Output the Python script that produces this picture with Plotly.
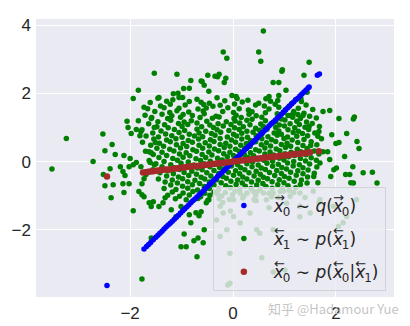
import plotly.graph_objects as go

# ---------------- data ----------------
# blue: x0 ~ q(x0)
blue_x = [-2.45, -1.73, -1.68, -1.64, -1.60, -1.55, -1.50, -1.46, -1.42, -1.38, -1.34, -1.30, -1.26,
          -1.22, -1.18, -1.14, -1.10, -1.06, -1.02, -0.98, -0.94, -0.90, -0.86, -0.82, -0.78, -0.74,
          -0.70, -0.66, -0.62, -0.58, -0.54, -0.50, -0.46, -0.42, -0.38, -0.34, -0.30, -0.26, -0.22,
          -0.18, -0.14, -0.10, -0.06, -0.02, 0.02, 0.06, 0.10, 0.14, 0.18, 0.22, 0.26, 0.30, 0.34,
          0.38, 0.42, 0.46, 0.50, 0.54, 0.58, 0.62, 0.66, 0.70, 0.74, 0.78, 0.82, 0.86, 0.90, 0.94,
          0.98, 1.02, 1.06, 1.10, 1.14, 1.18, 1.22, 1.26, 1.30, 1.34, 1.38, 1.42, 1.46, 1.48, 1.64, 1.68]
blue_y = [-3.63, -2.56, -2.49, -2.43, -2.37, -2.29, -2.22, -2.16, -2.10, -2.04, -1.98, -1.92, -1.86,
          -1.81, -1.75, -1.69, -1.63, -1.57, -1.51, -1.45, -1.39, -1.33, -1.27, -1.21, -1.15, -1.10,
          -1.04, -0.98, -0.92, -0.86, -0.80, -0.74, -0.68, -0.62, -0.56, -0.50, -0.44, -0.38, -0.33,
          -0.27, -0.21, -0.15, -0.09, -0.03, 0.03, 0.09, 0.15, 0.21, 0.27, 0.33, 0.38, 0.44, 0.50,
          0.56, 0.62, 0.68, 0.74, 0.80, 0.86, 0.92, 0.98, 1.04, 1.10, 1.15, 1.21, 1.27, 1.33, 1.39,
          1.45, 1.51, 1.57, 1.63, 1.69, 1.75, 1.81, 1.86, 1.92, 1.98, 2.04, 2.10, 2.16, 2.19, 2.53, 2.57]

# red: x0 ~ p(x0 | x1)
red_x = [-2.45, -1.75, -1.70, -1.65, -1.60, -1.55, -1.50, -1.45, -1.40, -1.35, -1.30, -1.25, -1.20,
         -1.15, -1.10, -1.05, -1.00, -0.95, -0.90, -0.85, -0.80, -0.75, -0.70, -0.65, -0.60, -0.55,
         -0.50, -0.45, -0.40, -0.35, -0.30, -0.25, -0.20, -0.15, -0.10, -0.05, 0.00, 0.05, 0.10,
         0.15, 0.20, 0.25, 0.30, 0.35, 0.40, 0.45, 0.50, 0.55, 0.60, 0.65, 0.70, 0.75, 0.80, 0.85,
         0.90, 0.95, 1.00, 1.05, 1.10, 1.15, 1.20, 1.25, 1.30, 1.35, 1.40, 1.45, 1.50, 1.67]
red_y = [-0.44, -0.32, -0.31, -0.30, -0.29, -0.28, -0.27, -0.26, -0.25, -0.24, -0.23, -0.23, -0.22,
         -0.21, -0.20, -0.19, -0.18, -0.17, -0.16, -0.15, -0.14, -0.14, -0.13, -0.12, -0.11, -0.10,
         -0.09, -0.08, -0.07, -0.06, -0.05, -0.05, -0.04, -0.03, -0.02, -0.01, 0.00, 0.01, 0.02,
         0.03, 0.04, 0.05, 0.05, 0.06, 0.07, 0.08, 0.09, 0.10, 0.11, 0.12, 0.13, 0.14, 0.14, 0.15,
         0.16, 0.17, 0.18, 0.19, 0.20, 0.21, 0.22, 0.23, 0.23, 0.24, 0.25, 0.26, 0.27, 0.30]

# green: x1 ~ p(x1) -- scattered points read individually
green_outer_x = [-3.52, -3.24, -2.72, -2.53, -2.49, -2.35, -2.29, -2.12, -2.00, -2.06, -2.04, -1.88, -1.79,
                 -1.98, -1.81, -1.94, -1.84, -1.73, -1.59, -1.53, -1.53, -1.63, -1.59, -1.51,
                 -2.39, -2.52, -2.19, -2.14, -2.10, -2.02, -1.94, -1.88, -1.79, -2.49, -2.33, -2.14, -2.02,
                 -2.37, -2.12, -1.77, -1.73, -1.69, -1.83, -1.77, -1.73, -1.63, -1.59, -1.55, -1.94, -1.59,
                 -1.77, -1.61, -1.53,
                 -0.95, -1.01, -0.91, -0.70, -0.76, -0.68, -0.58, -0.56, -0.82, -0.72, -0.62, -0.66, -0.85,
                 -0.52, -0.47, -1.11, -1.36, -1.44, -1.32, -1.20, -1.01,
                 0.59, -0.19, -0.12, 0.50, 0.54, -1.09, -0.82, -0.85, -0.60, -0.56, -0.49, -0.35, -0.27,
                 -0.14, -0.17, -0.47, -1.07, -1.05, -1.44, -0.02, 0.06, 0.78, 0.70, 0.96, 1.48, 0.95, 1.38,
                 0.89, 1.03, 0.89, 1.44, 1.32, -0.96, -1.16, -0.30, -0.62,
                 1.36, 1.17, 1.07, 1.75, 1.88, 2.06, 2.34, 2.36, 1.48, 1.67, 1.65, 1.92, 2.21, 2.00, 2.06,
                 2.41, 2.45, 2.17, 1.75, 1.84, 1.51, 1.88, 2.01, 1.69, 2.71, 2.80, 2.27, 2.34, 2.53, 2.33,
                 2.19, 2.29, 1.90, 1.96, 1.57, 1.65]
green_outer_y = [-0.22, 0.68, 0.00, 0.81, 0.32, 0.50, 0.21, 0.18, 0.09, 1.18, 1.00, 0.94, 0.88,
                 0.82, 0.76, 1.85, 2.09, 1.59, 1.26, 1.00, 2.59, 0.29, 0.26, 0.56,
                 -0.21, -0.38, -0.15, -0.29, -0.41, -0.15, -0.09, -0.03, -0.15, -0.71, -0.68, -0.65, -0.65,
                 -1.06, -0.91, -0.65, -0.50, -0.38, -0.88, -0.97, -1.03, -1.21, -1.32, -1.18, -1.44, -2.24,
                 -3.44, -0.03, -0.09,
                 -2.12, -2.50, -2.50, -2.79, -2.32, -2.24, -2.38, -2.00, -1.79, -1.50, -1.47, -1.59, -1.56,
                 -1.21, -1.12, -1.62, -1.21, -1.32, -1.06, -1.41, -1.32,
                 3.83, 3.21, 3.03, 3.21, 2.94, 2.56, 2.38, 2.15, 2.35, 2.24, 2.53, 2.50, 2.56,
                 2.44, 2.32, 2.06, 2.00, 1.88, 1.88, 1.94, 1.91, 2.32, 1.91, 2.69, 2.91, 2.65, 2.53,
                 2.32, 2.09, 1.94, 2.03, 1.85, 2.14, 1.99, 2.49, 2.36,
                 1.35, 1.41, 1.35, 1.47, 1.50, 1.26, 1.25, 1.31, 1.03, 0.88, 0.74, 0.79, 0.82, 0.53, 0.56,
                 0.59, 0.38, 0.15, 0.29, 0.29, 0.47, 0.06, -0.19, -0.04, -0.31, -0.63, -0.38, -0.63, -0.33, -0.15,
                 -0.38, -0.62, -0.44, -0.24, -0.44, -0.62]

# green points hidden behind the legend
green_faint_x = [-0.25, 0.01, 0.14, 0.39, 0.59, 0.65, 0.78, 0.98, 1.11, 1.30, 1.56, 1.69, 0.01, -0.32,
                 -0.12, 0.14, 0.46, -0.06, -0.25, -0.06, -0.19, 0.33, 0.52, 0.78, 1.04, 1.30, 1.50, 1.95,
                 2.40, 2.21, 2.05, 0.56, 0.78, 1.01, -0.10, 1.30, 2.14, 1.09, 1.40, 1.67, -0.30, -0.20,
                 -0.05, 0.45, 0.70, 0.88]
green_faint_y = [-1.31, -1.12, -0.92, -0.87, -0.92, -1.12, -0.92, -0.87, -1.02, -0.92, -0.87, -1.12, -1.61, -1.71,
                 -2.00, -1.80, -2.00, -2.69, -2.20, -3.57, -1.51, -1.51, -2.10, -2.00, -1.22, -1.31, -1.51, -1.31,
                 -1.12, -1.61, -1.90, -2.82, -3.24, -3.18, -3.62, -1.62, -1.79, -0.85, -1.05, -1.21, -0.95, -1.20,
                 -1.45, -1.15, -1.35, -1.05]

# green dense core: rows of (x list, y list)
core_rows = [
    ([-1.46, -1.17, -0.98, -0.70, -0.31, 0.08, 0.29, 0.64, 0.87, 1.22],
     [1.86, 1.81, 1.88, 1.83, 1.87, 1.85, 1.80, 1.84, 1.79, 1.81]),
    ([-1.61, -1.29, -0.85, -0.62, -0.46, -0.16, 0.18, 0.50, 0.73, 1.14, 1.33],
     [1.73, 1.77, 1.76, 1.74, 1.71, 1.78, 1.75, 1.71, 1.77, 1.70, 1.76]),
    ([-1.41, -1.22, -0.93, -0.57, -0.39, -0.25, 0.03, 0.44, 0.61, 0.82, 1.09, 1.42],
     [1.63, 1.68, 1.66, 1.67, 1.62, 1.65, 1.69, 1.66, 1.63, 1.68, 1.62, 1.66]),
    ([-1.66, -1.34, -1.05, -0.68, -0.52, -0.10, 0.12, 0.30, 0.70, 0.89, 1.02, 1.27, 1.55],
     [1.55, 1.58, 1.56, 1.54, 1.57, 1.58, 1.55, 1.51, 1.54, 1.59, 1.52, 1.56, 1.53]),
    ([-1.52, -1.23, -1.09, -0.86, -0.58, -0.20, 0.01, 0.37, 0.63, 0.99, 1.18, 1.38],
     [1.47, 1.44, 1.49, 1.45, 1.48, 1.47, 1.44, 1.46, 1.43, 1.44, 1.47, 1.42]),
    ([-1.71, -1.38, -1.19, -0.97, -0.79, -0.56, -0.33, 0.06, 0.31, 0.45, 0.86, 1.12, 1.26, 1.49],
     [1.36, 1.39, 1.34, 1.38, 1.35, 1.40, 1.33, 1.36, 1.39, 1.34, 1.40, 1.35, 1.38, 1.33]),
    ([-1.58, -1.27, -1.02, -0.64, -0.40, -0.27, 0.02, 0.16, 0.37, 0.56, 0.94, 1.16, 1.31, 1.62],
     [1.29, 1.26, 1.30, 1.29, 1.27, 1.31, 1.26, 1.29, 1.24, 1.30, 1.25, 1.30, 1.26, 1.28]),
    ([-1.84, -1.46, -1.21, -0.95, -0.81, -0.51, -0.13, 0.04, 0.27, 0.63, 0.83, 1.01, 1.24, 1.43],
     [1.20, 1.17, 1.21, 1.16, 1.20, 1.18, 1.17, 1.19, 1.21, 1.20, 1.17, 1.22, 1.18, 1.16]),
    ([-1.64, -1.33, -1.06, -0.88, -0.70, -0.45, -0.29, -0.04, 0.13, 0.33, 0.54, 0.75, 0.90, 1.11, 1.29, 1.54],
     [1.11, 1.08, 1.12, 1.09, 1.13, 1.07, 1.11, 1.09, 1.13, 1.08, 1.10, 1.12, 1.07, 1.11, 1.09, 1.12]),
    ([-1.48, -1.26, -0.99, -0.61, -0.38, -0.19, 0.03, 0.20, 0.44, 0.59, 0.83, 1.00, 1.20, 1.40, 1.68],
     [1.02, 0.99, 1.03, 1.02, 1.00, 1.04, 0.99, 1.02, 0.98, 1.03, 1.00, 1.04, 0.99, 1.01, 1.03]),
    ([-1.77, -1.40, -1.14, -0.94, -0.70, -0.53, -0.31, -0.08, 0.12, 0.27, 0.51, 0.66, 0.89, 1.07, 1.27, 1.47],
     [0.93, 0.90, 0.94, 0.91, 0.95, 0.89, 0.93, 0.91, 0.94, 0.89, 0.92, 0.95, 0.90, 0.93, 0.89, 0.94]),
    ([-1.56, -1.31, -1.05, -0.85, -0.66, -0.42, -0.24, 0.01, 0.17, 0.39, 0.56, 0.80, 0.94, 1.17, 1.35, 1.59],
     [0.84, 0.81, 0.85, 0.80, 0.84, 0.82, 0.86, 0.80, 0.83, 0.86, 0.81, 0.84, 0.80, 0.85, 0.82, 0.84]),
    ([-1.69, -1.45, -1.19, -0.99, -0.75, -0.59, -0.35, -0.11, 0.07, 0.28, 0.45, 0.68, 0.86, 1.06, 1.24, 1.45],
     [0.75, 0.72, 0.76, 0.71, 0.75, 0.73, 0.77, 0.72, 0.75, 0.71, 0.76, 0.73, 0.77, 0.72, 0.74, 0.76]),
    ([-1.54, -1.29, -1.11, -0.87, -0.67, -0.44, -0.25, -0.03, 0.17, 0.34, 0.56, 0.75, 0.99, 1.15, 1.38, 1.72],
     [0.66, 0.63, 0.67, 0.62, 0.66, 0.64, 0.68, 0.63, 0.66, 0.62, 0.67, 0.64, 0.68, 0.63, 0.65, 0.67]),
    ([-1.76, -1.43, -1.22, -0.97, -0.79, -0.54, -0.37, -0.14, 0.05, 0.26, 0.44, 0.65, 0.83, 1.05, 1.26, 1.52],
     [0.57, 0.54, 0.58, 0.53, 0.57, 0.55, 0.59, 0.54, 0.57, 0.53, 0.58, 0.55, 0.59, 0.54, 0.56, 0.58]),
    ([-1.60, -1.35, -1.10, -0.90, -0.66, -0.46, -0.25, -0.06, 0.15, 0.33, 0.55, 0.73, 0.94, 1.12, 1.36, 1.63],
     [0.48, 0.45, 0.49, 0.44, 0.48, 0.46, 0.50, 0.45, 0.48, 0.44, 0.49, 0.46, 0.50, 0.45, 0.47, 0.49]),
    ([-1.48, -1.23, -1.02, -0.78, -0.59, -0.36, -0.17, 0.05, 0.23, 0.44, 0.62, 0.84, 1.02, 1.25, 1.44],
     [0.39, 0.36, 0.40, 0.35, 0.39, 0.37, 0.41, 0.36, 0.39, 0.35, 0.40, 0.37, 0.41, 0.36, 0.38]),
    ([-1.70, -1.38, -1.15, -0.91, -0.71, -0.47, -0.28, -0.06, 0.12, 0.34, 0.51, 0.72, 0.91, 1.13, 1.32, 1.58],
     [0.30, 0.27, 0.31, 0.26, 0.30, 0.28, 0.32, 0.27, 0.30, 0.26, 0.31, 0.28, 0.32, 0.27, 0.29, 0.31]),
    ([-1.55, -1.29, -1.04, -0.84, -0.60, -0.41, -0.18, 0.01, 0.22, 0.40, 0.62, 0.79, 1.01, 1.20, 1.42, 1.67],
     [0.21, 0.18, 0.22, 0.17, 0.21, 0.19, 0.23, 0.18, 0.21, 0.17, 0.22, 0.19, 0.23, 0.18, 0.20, 0.22]),
    ([-1.44, -1.17, -0.97, -0.72, -0.53, -0.30, -0.11, 0.11, 0.29, 0.51, 0.69, 0.90, 1.08, 1.31, 1.52],
     [0.12, 0.09, 0.13, 0.08, 0.12, 0.10, 0.14, 0.09, 0.12, 0.08, 0.13, 0.10, 0.14, 0.09, 0.11]),
    ([-1.63, -1.34, -1.08, -0.87, -0.63, -0.44, -0.21, -0.02, 0.20, 0.38, 0.60, 0.77, 0.99, 1.18, 1.41, 1.62],
     [0.03, 0.00, 0.04, -0.01, 0.03, 0.01, 0.05, 0.00, 0.03, -0.01, 0.04, 0.01, 0.05, 0.00, 0.02, 0.04]),
    ([-1.50, -1.21, -1.01, -0.76, -0.56, -0.33, -0.14, 0.09, 0.27, 0.49, 0.66, 0.88, 1.06, 1.29, 1.49],
     [-0.06, -0.09, -0.05, -0.10, -0.06, -0.08, -0.04, -0.09, -0.06, -0.10, -0.05, -0.08, -0.04, -0.09, -0.07]),
    ([-1.38, -1.14, -0.89, -0.69, -0.45, -0.26, -0.03, 0.15, 0.37, 0.55, 0.77, 0.95, 1.17, 1.36, 1.63],
     [-0.15, -0.18, -0.14, -0.19, -0.15, -0.17, -0.13, -0.18, -0.15, -0.19, -0.14, -0.17, -0.13, -0.18, -0.16]),
    ([-1.56, -1.26, -1.04, -0.80, -0.60, -0.37, -0.18, 0.05, 0.23, 0.45, 0.63, 0.85, 1.04, 1.26, 1.46],
     [-0.24, -0.27, -0.23, -0.28, -0.24, -0.26, -0.22, -0.27, -0.24, -0.28, -0.23, -0.26, -0.22, -0.27, -0.25]),
    ([-1.42, -1.16, -0.95, -0.71, -0.51, -0.28, -0.09, 0.13, 0.31, 0.53, 0.71, 0.94, 1.12, 1.36, 1.58],
     [-0.33, -0.36, -0.32, -0.37, -0.33, -0.35, -0.31, -0.36, -0.33, -0.37, -0.32, -0.35, -0.31, -0.36, -0.34]),
    ([-1.29, -1.06, -0.86, -0.62, -0.43, -0.20, 0.01, 0.19, 0.41, 0.59, 0.81, 1.00, 1.23, 1.45],
     [-0.42, -0.45, -0.41, -0.46, -0.42, -0.44, -0.40, -0.45, -0.42, -0.46, -0.41, -0.44, -0.40, -0.45]),
    ([-1.45, -1.18, -0.98, -0.74, -0.55, -0.32, -0.13, 0.09, 0.27, 0.49, 0.67, 0.90, 1.09, 1.33],
     [-0.51, -0.54, -0.50, -0.55, -0.51, -0.53, -0.49, -0.54, -0.51, -0.55, -0.50, -0.53, -0.49, -0.54]),
    ([-1.32, -1.08, -0.88, -0.65, -0.46, -0.23, -0.04, 0.18, 0.36, 0.58, 0.76, 0.99, 1.19, 1.44],
     [-0.60, -0.63, -0.59, -0.64, -0.60, -0.62, -0.58, -0.63, -0.60, -0.64, -0.59, -0.62, -0.58, -0.63]),
    ([-1.21, -0.98, -0.79, -0.56, -0.37, -0.14, 0.06, 0.24, 0.46, 0.64, 0.87, 1.07, 1.31],
     [-0.69, -0.72, -0.68, -0.73, -0.69, -0.71, -0.67, -0.72, -0.69, -0.73, -0.68, -0.71, -0.67]),
    ([-1.34, -1.11, -0.88, -0.69, -0.46, -0.28, -0.05, 0.13, 0.35, 0.53, 0.76, 0.96, 1.22],
     [-0.79, -0.82, -0.78, -0.83, -0.79, -0.81, -0.77, -0.82, -0.79, -0.83, -0.78, -0.81, -0.77]),
    ([-1.18, -0.97, -0.78, -0.55, -0.37, -0.15, 0.04, 0.27, 0.46, 0.70, 0.92, 1.18],
     [-0.89, -0.92, -0.88, -0.93, -0.89, -0.91, -0.87, -0.92, -0.89, -0.93, -0.88, -0.91]),
    ([-1.27, -1.04, -0.85, -0.63, -0.45, -0.22, -0.01, 0.21, 0.44, 0.75],
     [-0.99, -1.02, -0.98, -1.03, -0.99, -1.01, -0.97, -1.02, -0.99, -1.03]),
    ([-1.12, -0.91, -0.68, -0.49, -0.27, -0.07, 0.19, 0.41],
     [-1.09, -1.12, -1.08, -1.13, -1.09, -1.11, -1.07, -1.12]),
]

x_ticks = [-2, 0, 2]
y_ticks = [-2, 0, 2, 4]


def vec(arrow, sub):
    return ('<span style="font-style:italic;letter-spacing:-10px">x</span>'
            '<span style="font-size:13px;baseline-shift:10px;letter-spacing:-2px">' + arrow + '</span>'
            '<sub>' + sub + '</sub>')


R, L = "\u2192", "\u2190"
labels = [
    vec(R, "0") + " \u223c <i>q</i>(" + vec(R, "0") + ")",
    vec(L, "1") + " \u223c <i>p</i>(" + vec(L, "1") + ")",
    vec(L, "0") + " \u223c <i>p</i>(" + vec(L, "0") + "|" + vec(L, "1") + ")",
]

# ---------------- build ----------------
green_x = list(green_outer_x) + list(green_faint_x)
green_y = list(green_outer_y) + list(green_faint_y)
for xs, ys in core_rows:
    green_x.extend(xs)
    green_y.extend(ys)

fig = go.Figure()
fig.add_trace(go.Scatter(x=green_x, y=green_y, mode="markers", name=labels[1],
                         marker=dict(color="#008000", size=5.5, line=dict(width=0)),
                         legendrank=2, legendgroup="g"))
fig.add_trace(go.Scatter(x=blue_x, y=blue_y, mode="markers", name=labels[0],
                         marker=dict(color="#0000ff", size=5.5, line=dict(width=0)),
                         legendrank=1, legendgroup="b"))
fig.add_trace(go.Scatter(x=red_x, y=red_y, mode="markers", name=labels[2],
                         marker=dict(color="#a52a2a", size=6.5, line=dict(width=0)),
                         legendrank=3, legendgroup="r"))

fig.update_layout(
    width=410, height=326,
    margin=dict(l=36, r=16, t=19, b=29, autoexpand=False),
    paper_bgcolor="white",
    plot_bgcolor="#EAEAF2",
    font=dict(family="Liberation Sans, Arial, sans-serif", color="#262626"),
    showlegend=True,
    legend=dict(x=0.494, y=0.396, xanchor="left", yanchor="top",
                bgcolor="rgba(234,234,242,0.82)", bordercolor="#d2d2da", borderwidth=1,
                font=dict(family="DejaVu Sans", size=17, color="#262626"),
                tracegroupgap=8, itemwidth=50),
    xaxis=dict(range=[-3.83, 3.13], tickvals=x_ticks, showgrid=True, gridcolor="white",
               gridwidth=1.3, zeroline=False, showline=False, ticks="", automargin=False,
               tickfont=dict(size=17), ticklabelstandoff=4),
    yaxis=dict(range=[-3.97, 4.18], tickvals=y_ticks, showgrid=True, gridcolor="white",
               gridwidth=1.3, zeroline=False, showline=False, ticks="", automargin=False,
               tickfont=dict(size=17), ticklabelstandoff=4),
)

fig.add_annotation(text="知乎 @Hadamour Yue", xref="paper", yref="paper",
                   x=0.83, y=-0.04, xanchor="center", yanchor="middle", showarrow=False,
                   font=dict(family="Noto Sans CJK SC", size=13, color="rgba(185,185,185,0.85)"))

fig.write_html("out.html")
